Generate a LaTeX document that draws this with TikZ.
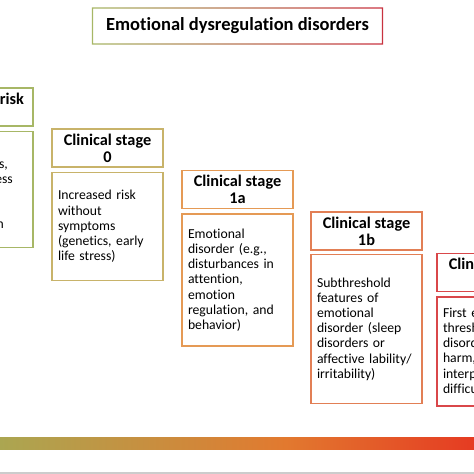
\documentclass[tikz,border=0pt]{standalone}
\usepackage{fontspec}
\setmainfont{Carlito}[Ligatures=NoCommon]
\usetikzlibrary{positioning}

\definecolor{riskgreen}{HTML}{A7B766}
\definecolor{stagetan}{HTML}{C8B36A}
\definecolor{stageorange}{HTML}{E59A55}
\definecolor{stagecoral}{HTML}{E27F55}
\definecolor{stagered}{HTML}{D9474A}
\definecolor{titleorange}{HTML}{E6A24A}
\definecolor{titlered}{HTML}{C8313F}
\definecolor{barolive}{HTML}{ABA651}
\definecolor{barorange}{HTML}{E2792F}
\definecolor{barred}{HTML}{E53B22}

\tikzset{
  stagehead/.style={draw=#1, line width=1.5pt, minimum width=111pt, minimum height=38pt,
    inner sep=0pt, align=center, font=\fontsize{16.3}{17}\selectfont\bfseries},
  stagebody/.style={draw=#1, line width=1.5pt, text width=99pt, inner xsep=6pt, inner ysep=0pt,
    align=left, font=\fontsize{13.7}{15.2}\selectfont},
  cuttext/.style={anchor=base east, inner sep=0pt, font=\fontsize{13.7}{15.2}\selectfont},
}

\begin{document}
\begin{tikzpicture}[x=1pt, y=-1pt]
        \useasboundingbox (0,0) rectangle (474,474);
        \clip (0,0) rectangle (474,474);

        % title with the shaded frame
        \node[minimum width=291pt, minimum height=37pt, inner sep=0pt,
              font=\fontsize{18.5}{20}\selectfont\bfseries] (title) at (237.5,26)
              {Emotional dysregulation disorders};
        \shade[left color=riskgreen, middle color=titleorange, right color=titlered, even odd rule]
            (title.south west) rectangle (title.north east)
            ([xshift=1.3pt,yshift=1.3pt]title.south west) rectangle ([xshift=-1.3pt,yshift=-1.3pt]title.north east);

        % stages
        \node[stagehead=riskgreen] (headrisk) at (-22.5,107) {Increased risk\\\mbox{}};
        \node[stagebody=riskgreen, minimum height=116pt, below=4pt of headrisk] (bodyrisk) {};
        \node[cuttext] (riska) at (8,168.5) {s,};
        \node[cuttext] (riskb) at (13,183.5) {ess};
        \node[cuttext] (riskc) at (4,228.5) {n};

        \node[stagehead=stagetan] (head0) at (107.5,148) {Clinical stage\\0};
        \node[stagebody=stagetan, minimum height=108pt, below=4pt of head0] (body0)
            {Increased risk\\without\\symptoms\\(genetics, early\\life stress)};

        \node[stagehead=stageorange] (head1a) at (237.5,189.5) {Clinical stage\\1a};
        \node[stagebody=stageorange, minimum height=132pt, below=4pt of head1a] (body1a)
            {Emotional\\disorder (e.g.,\\disturbances in\\attention,\\emotion\\regulation, and\\behavior)};

        \node[stagehead=stagecoral] (head1b) at (366.5,231) {Clinical stage\\1b};
        \node[stagebody=stagecoral, minimum height=149pt, below=3pt of head1b] (body1b)
            {Subthreshold\\features of\\emotional\\disorder (sleep\\disorders or\\affective lability/\\irritability)};

        \node[stagehead=stagered] (head2) at (492.5,272.5) {Clinical stage\\2};
        \node[stagebody=stagered, minimum height=109pt, below=4pt of head2] (body2)
            {First episode of\\threshold\\disorder (self-\\harm,\\interpersonal\\difficulties)};

        % severity bar
        \shade[left color=barolive, right color=barorange] (0,437) rectangle (286,449);
        \shade[left color=barorange, right color=barred] (285.5,437) rectangle (474,449);
        \fill[black!20] (0,472) rectangle (474,474);
\end{tikzpicture}
\end{document}
